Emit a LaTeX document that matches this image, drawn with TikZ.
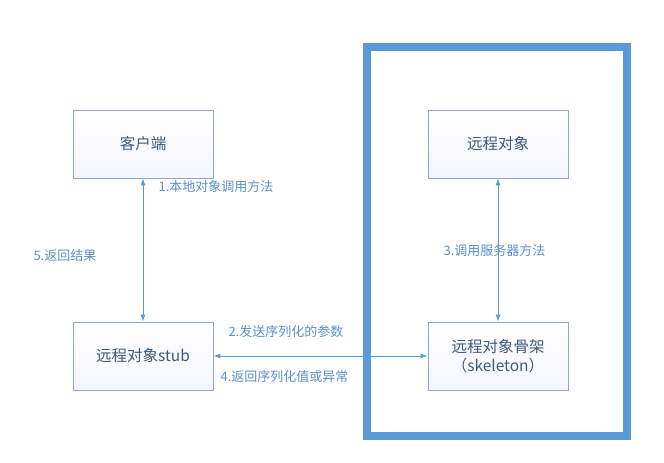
\documentclass[tikz,border=0pt]{standalone}
\usepackage{fontspec}
\newfontfamily\cjk{Noto Sans CJK SC}
\usetikzlibrary{arrows.meta}
\definecolor{bord}{HTML}{8FA8C8}
\definecolor{txt}{HTML}{3D5A7A}
\definecolor{lab}{HTML}{5B8FC8}
\definecolor{cont}{HTML}{5B9BD5}
\begin{document}
\begin{tikzpicture}[x=1pt,y=-1pt,
  box/.style={draw=bord,line width=0.8pt,top color=white,bottom color=blue!4,minimum width=140pt,minimum height=68pt,font=\cjk\fontsize{15.5}{19}\selectfont,text=txt,align=center},
  lbl/.style={font=\cjk\fontsize{13}{15}\selectfont,text=lab},
  conn/.style={draw=cont,line width=0.9pt,{Latex[length=7pt,width=5pt]}-{Latex[length=7pt,width=5pt]}}]
\useasboundingbox (0,0) rectangle (664,463);
\draw[cont,line width=8pt] (367,47) rectangle (627,436);
\node[box] (client) at (143,144) {客户端};
\node[box] (stub) at (143,356) {远程对象stub};
\node[box] (remote) at (498,144) {远程对象};
\node[box] (skel) at (498,356) {远程对象骨架\\（skeleton）};
\draw[conn] (client.south) -- (stub.north);
\draw[conn] (remote.south) -- (skel.north);
\draw[conn] (stub.east) -- (skel.west);
\node[lbl,anchor=west] at (155,187) {1.本地对象调用方法};
\node[lbl,anchor=west] at (30,256) {5.返回结果};
\node[lbl,anchor=west] at (440,251) {3.调用服务器方法};
\node[lbl,anchor=west] at (225,332) {2.发送序列化的参数};
\node[lbl,anchor=west] at (217,377) {4.返回序列化值或异常};
\end{tikzpicture}
\end{document}
